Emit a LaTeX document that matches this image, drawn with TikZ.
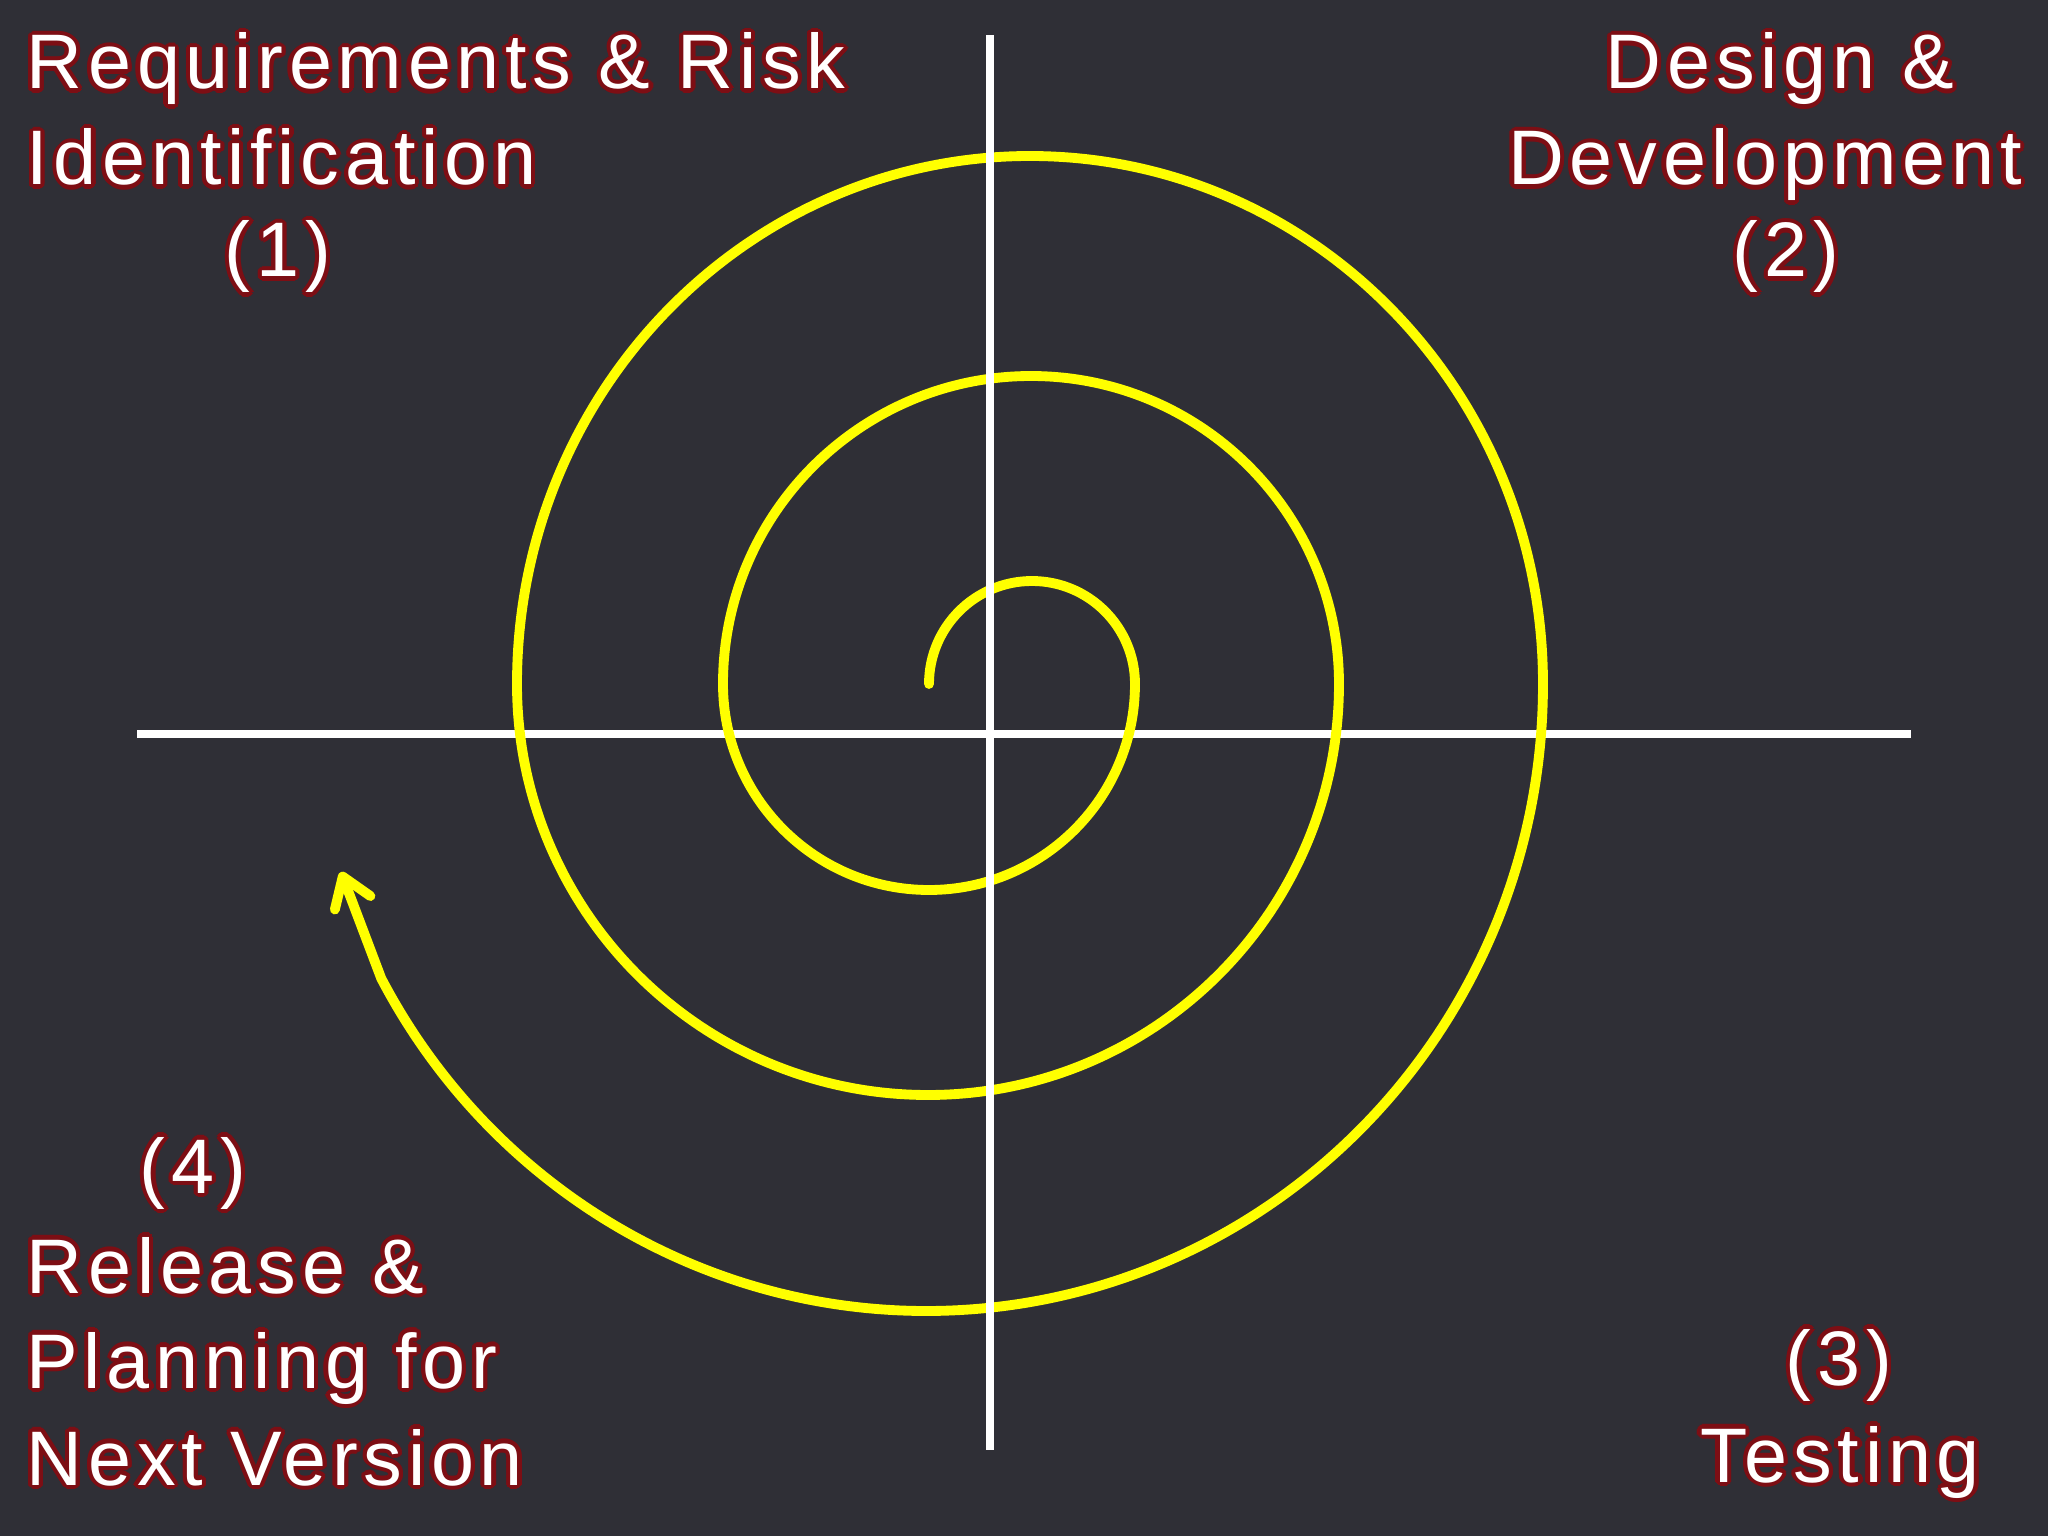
\documentclass[tikz,border=0pt]{standalone}
\usepackage{fontspec}
\newfontfamily\phasefont[LetterSpace=7.5]{Liberation Sans}
\usetikzlibrary{arrows.meta}

\definecolor{boardgray}{RGB}{47,47,54}
\definecolor{rimred}{RGB}{125,14,20}
\definecolor{spiralyellow}{RGB}{255,255,0}

% white text with a thin dark red rim
\newcommand\rimtext[1]{{%
  \def\rimcopy##1##2{\rlap{\hspace*{##1}\raisebox{##2}{\color{rimred}#1}}}%
  \rimcopy{1.2pt}{0pt}\rimcopy{-1.2pt}{0pt}\rimcopy{0pt}{1.2pt}\rimcopy{0pt}{-1.2pt}%
  \rimcopy{.85pt}{.85pt}\rimcopy{-.85pt}{.85pt}\rimcopy{.85pt}{-.85pt}\rimcopy{-.85pt}{-.85pt}%
  \rimcopy{1.1pt}{.46pt}\rimcopy{-1.1pt}{.46pt}\rimcopy{1.1pt}{-.46pt}\rimcopy{-1.1pt}{-.46pt}%
  \rimcopy{.46pt}{1.1pt}\rimcopy{-.46pt}{1.1pt}\rimcopy{.46pt}{-1.1pt}\rimcopy{-.46pt}{-1.1pt}%
  \color{white}#1}}

\tikzset{
  axis/.style={draw=white, line width=2.3pt},
  spiral/.style={draw=spiralyellow, line width=2.8pt, line cap=round, line join=round},
}

\begin{document}
\begin{tikzpicture}

        \fill[boardgray] (0,0) rectangle (20.48,-15.36);
        \useasboundingbox (0,0) rectangle (20.48,-15.36);

        \coordinate (west)  at (1.37,-7.34);
        \coordinate (east)  at (19.11,-7.34);
        \coordinate (north) at (9.90,-0.35);
        \coordinate (south) at (9.90,-14.50);
        \coordinate (spin)  at (9.29,-6.84);
        \coordinate (tip)   at (3.41,-8.72);

        \draw[axis] (west) -- (east);

        % half circles round two centres
        \draw[spiral, -{Straight Barb[length=2.8mm,width=3.8mm,round]}] (spin)
          arc[start angle=180, end angle=0, radius=1.03]
          arc[start angle=0, end angle=-180, radius=2.06]
          arc[start angle=180, end angle=0, radius=3.08]
          arc[start angle=0, end angle=-180, radius=4.11]
          arc[start angle=180, end angle=0, x radius=5.13, y radius=5.28]
          arc[start angle=0, end angle=-152, x radius=6.17, y radius=6.27]
          -- (tip);

        \draw[axis] (north) -- (south);

        \begin{scope}[every node/.style={inner sep=0pt,
            font=\phasefont\fontsize{22pt}{27pt}\selectfont}]
          \node[anchor=base west] (req1) at (0.26,-0.89)  {\rimtext{Requirements \& Risk}};
          \node[anchor=base west] (req2) at (0.26,-1.85)  {\rimtext{Identification}};
          \node[anchor=base]      (req3) at (2.78,-2.77)  {\rimtext{(1)}};

          \node[anchor=base]      (des1) at (17.80,-0.89) {\rimtext{Design \&}};
          \node[anchor=base]      (des2) at (17.65,-1.85) {\rimtext{Development}};
          \node[anchor=base]      (des3) at (17.86,-2.77) {\rimtext{(2)}};

          \node[anchor=base]      (tst1) at (18.39,-13.85) {\rimtext{(3)}};
          \node[anchor=base]      (tst2) at (18.40,-14.82) {\rimtext{Testing}};

          \node[anchor=base]      (rel0) at (1.93,-11.93) {\rimtext{(4)}};
          \node[anchor=base west] (rel1) at (0.26,-12.93) {\rimtext{Release \&}};
          \node[anchor=base west] (rel2) at (0.26,-13.88) {\rimtext{Planning for}};
          \node[anchor=base west] (rel3) at (0.26,-14.85) {\rimtext{Next Version}};
        \end{scope}

      \end{tikzpicture}
\end{document}
